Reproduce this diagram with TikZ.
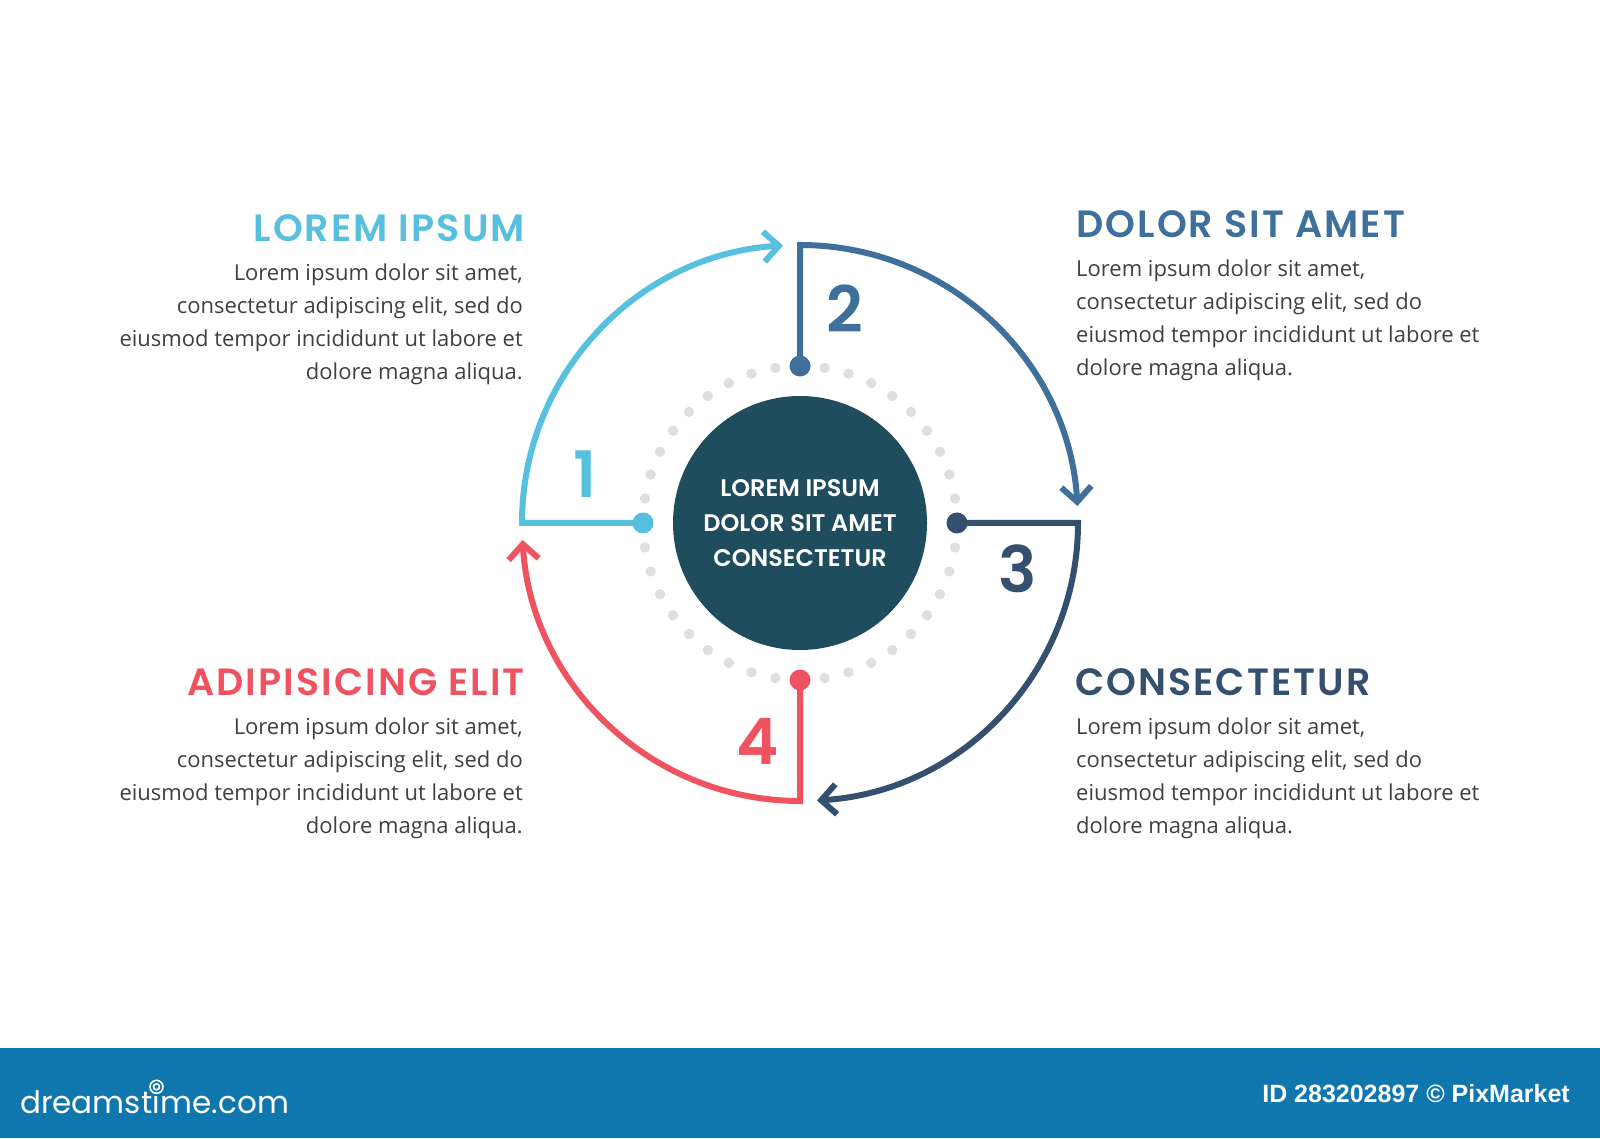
\documentclass[tikz,border=0pt]{standalone}
\usepackage{fontspec}
\setmainfont{Open Sans}
\newfontfamily\hfont{Poppins SemiBold}[LetterSpace=5.5]
\newfontfamily\cfont{Poppins SemiBold}
\newfontfamily\lfont{Poppins}
\newfontfamily\bfont{Liberation Sans}
\usetikzlibrary{arrows.meta}
\definecolor{cA}{HTML}{56C0DE}
\definecolor{cB}{HTML}{3E709B}
\definecolor{cC}{HTML}{34506E}
\definecolor{cD}{HTML}{EF5360}
\definecolor{hubc}{HTML}{1F4D5E}
\definecolor{txt}{HTML}{404040}
\definecolor{ringgray}{HTML}{DFDFDF}
\definecolor{banner}{HTML}{1077AE}
\begin{document}
\begin{tikzpicture}[x=1pt,y=1pt,
  ringline/.style={line width=6pt},
  tipA/.style={-{Straight Barb[length=15pt,width=30pt]}},
  bigdot/.style={circle,inner sep=0pt,minimum size=21pt},
  head/.style={inner sep=0pt,font=\hfont\fontsize{38}{40}\selectfont},
  body/.style={inner sep=0pt,text=txt,font=\fontsize{22}{33}\selectfont},
  num/.style={inner sep=0pt,font=\cfont\fontsize{64}{64}\selectfont},
]
\path[fill=white] (0,0) rectangle (1600,1138);
\useasboundingbox (0,0) rectangle (1600,1138);
\coordinate (C) at (800,615);
% dotted ring
\foreach \a in {0,9,...,351} \fill[ringgray] (C) ++(\a:157) circle (5.2);
% hub
\node[circle,fill=hubc,minimum size=254pt,inner sep=0pt,text=white,align=center,
  font=\cfont\fontsize{24}{35}\selectfont] (hub) at (C)
  {LOREM IPSUM\\DOLOR SIT AMET\\CONSECTETUR};
% corner coordinates
\coordinate (k1) at (522,615);
\coordinate (k2) at (800,893);
\coordinate (k3) at (1078,615);
\coordinate (k4) at (800,337);
% dots
\node[bigdot,fill=cA] (d1) at (643,615) {};
\node[bigdot,fill=cB] (d2) at (800,772) {};
\node[bigdot,fill=cC] (d3) at (957,615) {};
\node[bigdot,fill=cD] (d4) at (800,458) {};
% connectors
\draw[ringline,cA,tipA] (d1.center) -- (k1) arc[start angle=180,end angle=93.5,radius=278];
\draw[ringline,cB,tipA] (d2.center) -- (k2) arc[start angle=90,end angle=3.5,radius=278];
\draw[ringline,cC,tipA] (d3.center) -- (k3) arc[start angle=0,end angle=-86.5,radius=278];
\draw[ringline,cD,tipA] (d4.center) -- (k4) arc[start angle=270,end angle=183.5,radius=278];
% numbers
\node[num,text=cA,anchor=base] (n1) at (585,640) {1};
\node[num,text=cB,anchor=base] (n2) at (845,805) {2};
\node[num,text=cC,anchor=base] (n3) at (1018,545) {3};
\node[num,text=cD,anchor=base] (n4) at (758,373) {4};
% headings
\node[head,text=cA,anchor=base east] (h1) at (525,896) {LOREM IPSUM};
\node[head,text=cB,anchor=base west] (h2) at (1076,900) {DOLOR SIT AMET};
\node[head,text=cC,anchor=base west] (h3) at (1075,442) {CONSECTETUR};
\node[head,text=cD,anchor=base east] (h4) at (525,442) {ADIPISICING ELIT};
% body texts
\foreach \t [count=\i] in {{Lorem ipsum dolor sit amet,},{consectetur adipiscing elit, sed do},{eiusmod tempor incididunt ut labore et},{dolore magna aliqua.}}{
  \node[body,anchor=base east] (tl\i) at (523,{857-32.7*(\i-1)}) {\t};
  \node[body,anchor=base west] (tr\i) at (1076,{861-32.7*(\i-1)}) {\t};
  \node[body,anchor=base east] (bl\i) at (523,{403-32.8*(\i-1)}) {\t};
  \node[body,anchor=base west] (br\i) at (1076,{403-32.8*(\i-1)}) {\t};
}
% banner
\fill[banner] (0,0) rectangle (1600,90);
\node[anchor=base west,inner sep=0pt,text=white,font=\lfont\fontsize{31}{31}\selectfont] (dm1) at (20,25) {dreamst};
\node[anchor=base west,inner sep=0pt,text=white,font=\lfont\fontsize{31}{31}\selectfont] (dm2) at (dm1.base east) {ı};
\node[anchor=base west,inner sep=0pt,text=white,font=\lfont\fontsize{31}{31}\selectfont] (dm3) at (dm2.base east) {me.com};
\draw[white,line width=1.6pt] ([yshift=9pt]dm2.north) circle (6.5) ([yshift=9pt]dm2.north) circle (3);
\node[anchor=base east,inner sep=0pt,text=white,font=\bfont\bfseries\fontsize{25}{25}\selectfont] (id) at (1570,36) {ID 283202897 © PixMarket};
\end{tikzpicture}
\end{document}
